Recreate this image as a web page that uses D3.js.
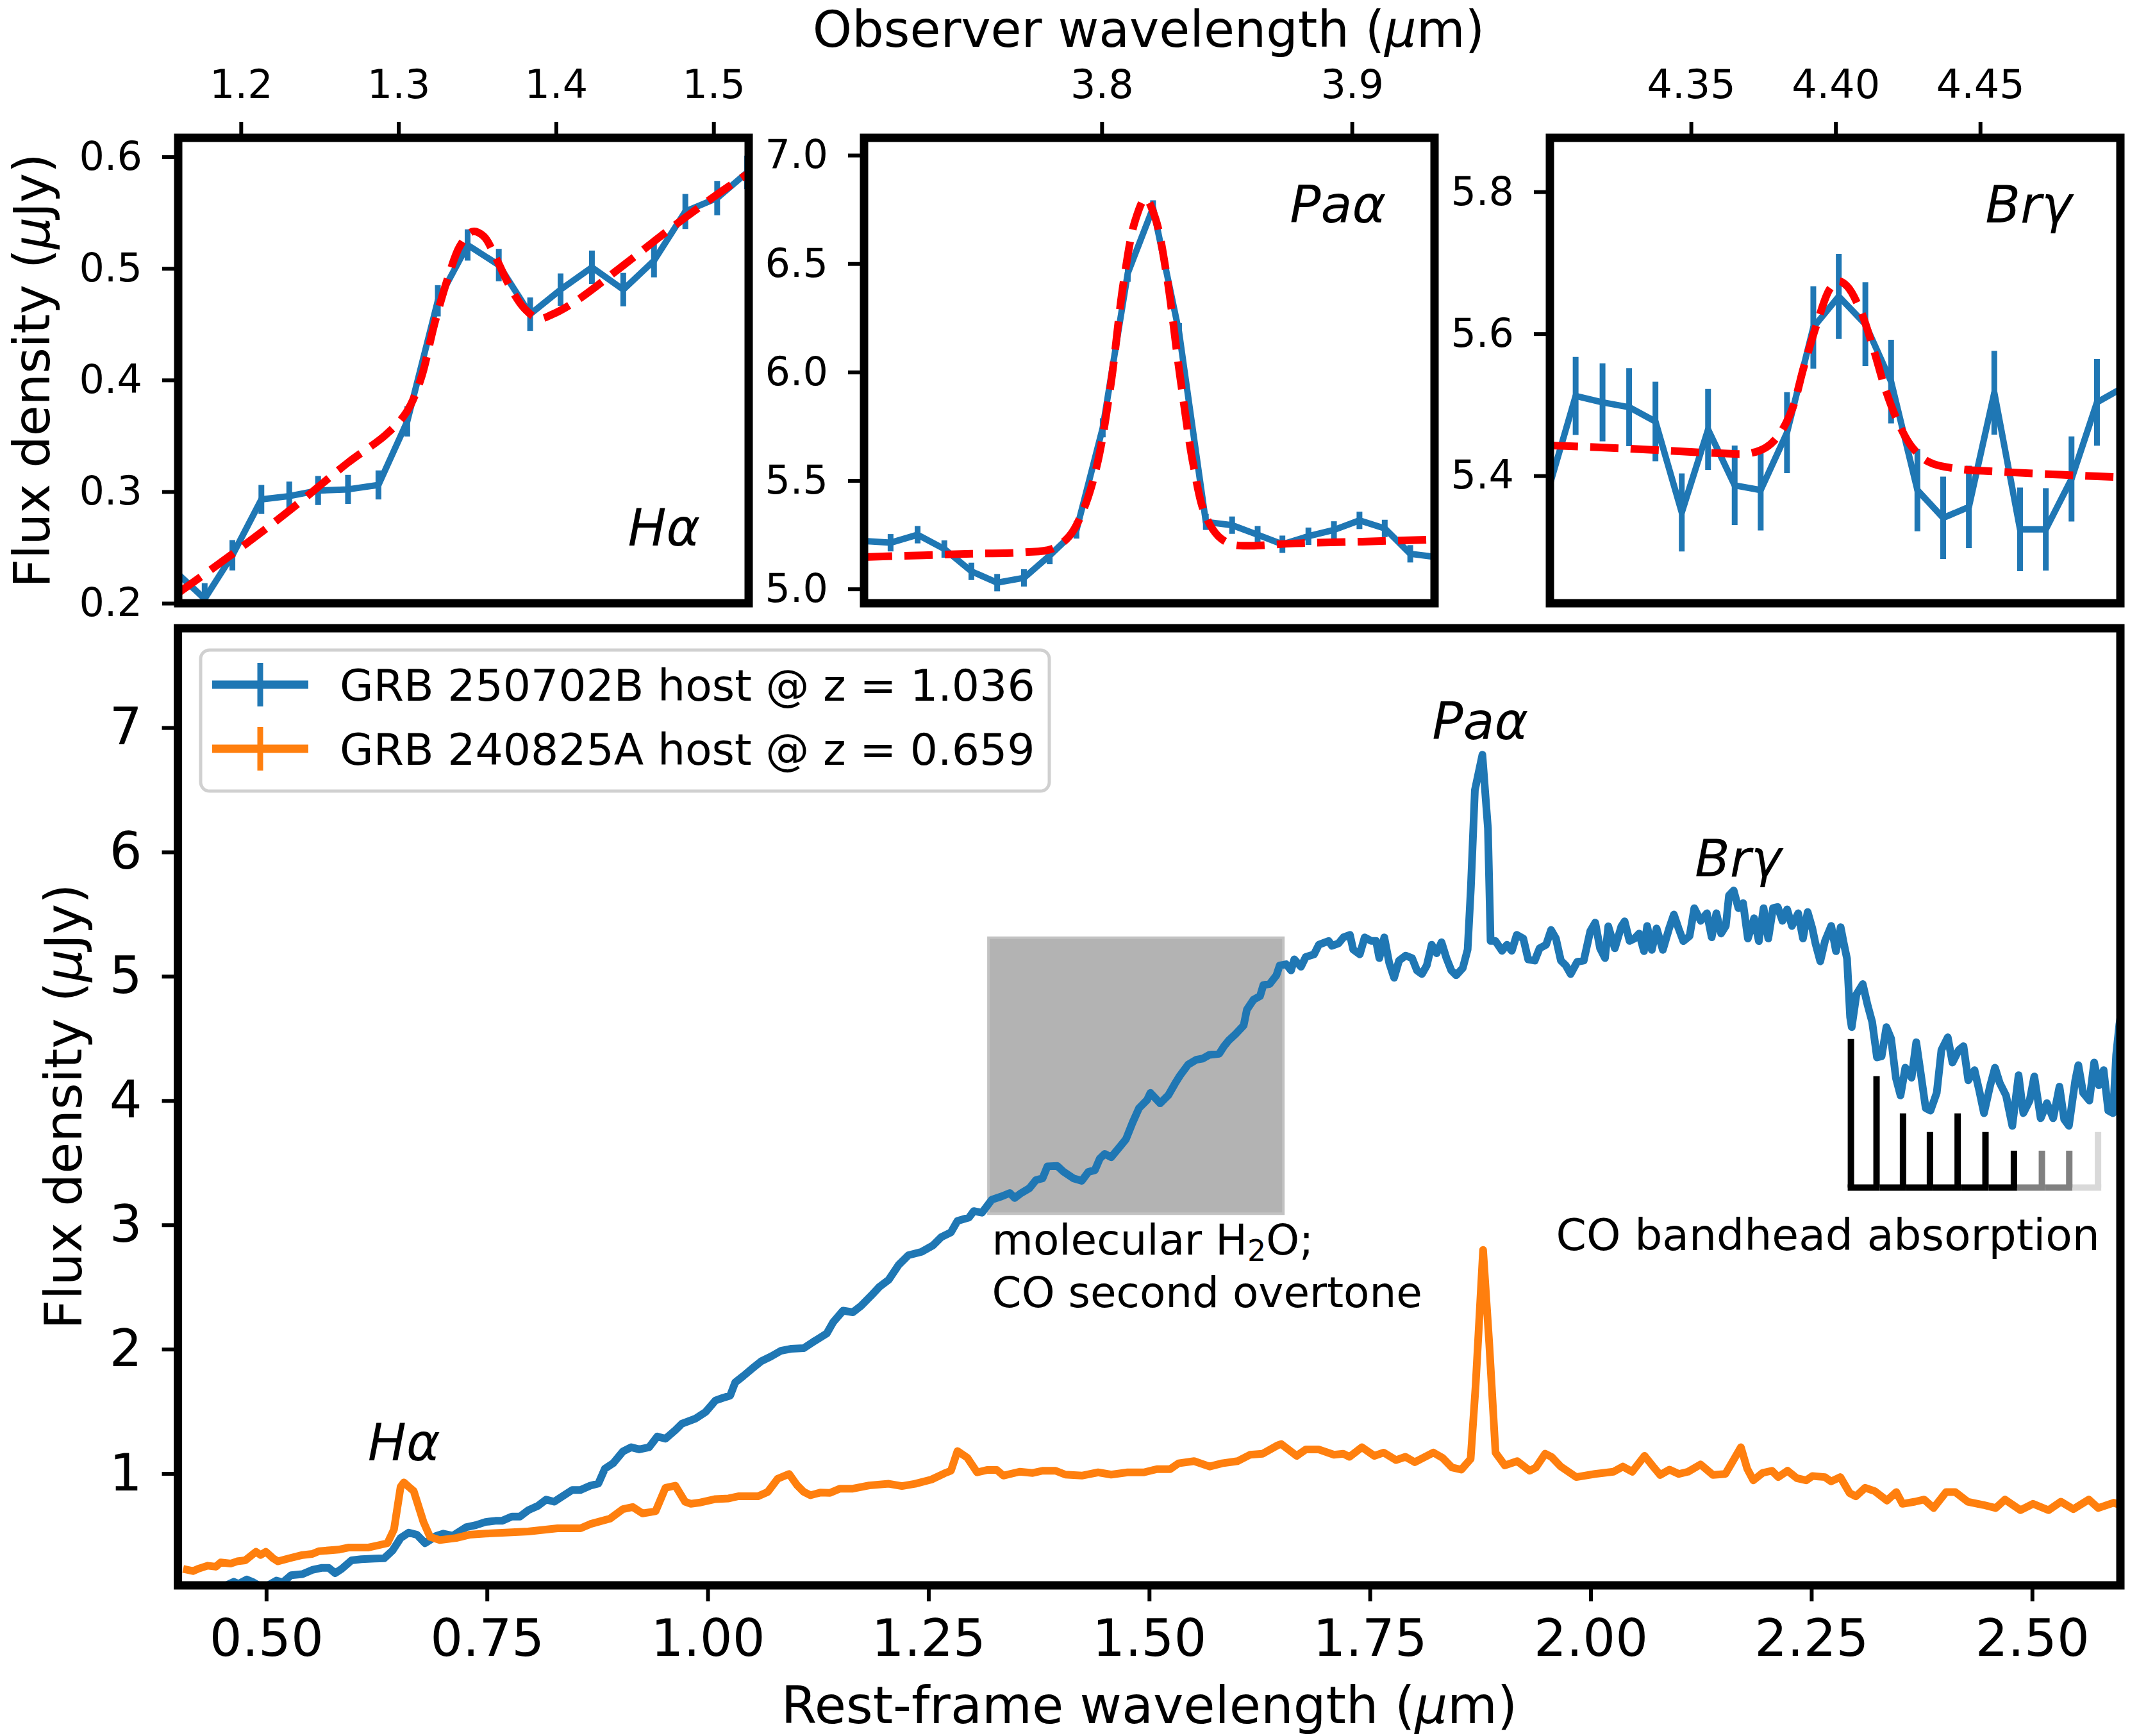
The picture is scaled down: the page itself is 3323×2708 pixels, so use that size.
<!DOCTYPE html>
<html>
<head>
<meta charset="utf-8">
<script src="https://cdn.jsdelivr.net/npm/d3@7"></script>
<style>
body { margin: 0; background: #fff; }
svg text { font-family: "DejaVu Sans", sans-serif; }
</style>
</head>
<body>
<svg id="fig" width="3323" height="2708"></svg>
<script>
// ---- zoom panels: observer-frame wavelength (um), flux (uJy), error ----
var haWave = [1.158, 1.177, 1.1946, 1.213, 1.2307, 1.249, 1.268, 1.2873, 1.3056, 1.325, 1.3439, 1.3637, 1.3836, 1.4029, 1.4228, 1.4427, 1.4622, 1.4821, 1.5023, 1.5213, 1.5406];
var haFlux = [0.229, 0.204, 0.243, 0.293, 0.296, 0.301, 0.302, 0.306, 0.363, 0.471, 0.521, 0.503, 0.459, 0.481, 0.501, 0.481, 0.507, 0.551, 0.563, 0.586, 0.61];
var haErr  = [0.014, 0.014, 0.0136, 0.013, 0.013, 0.013, 0.013, 0.013, 0.0136, 0.014, 0.014, 0.0145, 0.015, 0.0145, 0.015, 0.015, 0.015, 0.0157, 0.0154, 0.015, 0.015];
var haFitWave = [1.160, 1.1945, 1.2307, 1.268, 1.292, 1.305, 1.314, 1.323, 1.332, 1.339, 1.347, 1.354, 1.362, 1.371, 1.380, 1.389, 1.398, 1.413, 1.443, 1.473, 1.503, 1.523];
var haFitFlux = [0.209, 0.244, 0.283, 0.326, 0.351, 0.371, 0.40, 0.451, 0.494, 0.52, 0.533, 0.529, 0.509, 0.483, 0.464, 0.455, 0.459, 0.471, 0.503, 0.536, 0.567, 0.586];

var paWave = [3.7053, 3.7156, 3.7264, 3.7371, 3.7479, 3.7582, 3.7689, 3.7792, 3.7899, 3.8004, 3.8104, 3.8205, 3.8309, 3.8416, 3.8521, 3.8623, 3.8722, 3.8826, 3.8928, 3.9030, 3.9131, 3.9233, 3.9336];
var paFlux = [5.221, 5.213, 5.25, 5.184, 5.081, 5.029, 5.051, 5.154, 5.272, 5.743, 6.456, 6.757, 6.184, 5.309, 5.294, 5.25, 5.206, 5.243, 5.272, 5.316, 5.279, 5.162, 5.147];
var paErr  = [0.04, 0.04, 0.04, 0.04, 0.04, 0.04, 0.04, 0.04, 0.04, 0.044, 0.04, 0.035, 0.042, 0.037, 0.04, 0.04, 0.04, 0.04, 0.04, 0.04, 0.04, 0.04, 0.04];
var paFitWave = [3.705, 3.748, 3.769, 3.780, 3.787, 3.7925, 3.798, 3.8035, 3.8088, 3.8134, 3.8175, 3.8214, 3.8259, 3.8313, 3.8367, 3.8412, 3.8466, 3.852, 3.8592, 3.8772, 3.9041, 3.933];
var paFitFlux = [5.147, 5.162, 5.169, 5.184, 5.243, 5.36, 5.566, 5.934, 6.42, 6.70, 6.80, 6.71, 6.45, 5.98, 5.566, 5.346, 5.243, 5.206, 5.199, 5.21, 5.218, 5.228];

var brWave = [4.3011, 4.3101, 4.3194, 4.3286, 4.3377, 4.3468, 4.3559, 4.3651, 4.3741, 4.3832, 4.3923, 4.4011, 4.4103, 4.4192, 4.4283, 4.4372, 4.4461, 4.4549, 4.4638, 4.4727, 4.4816, 4.4904, 4.4994];
var brFlux = [5.3865, 5.5124, 5.5034, 5.4966, 5.4764, 5.3483, 5.4652, 5.3865, 5.3798, 5.4607, 5.609, 5.6526, 5.6135, 5.5326, 5.3798, 5.3407, 5.356, 5.5169, 5.3245, 5.3245, 5.3955, 5.5034, 5.524];
var brErr  = [0.056, 0.055, 0.055, 0.055, 0.056, 0.055, 0.057, 0.056, 0.057, 0.057, 0.058, 0.060, 0.059, 0.059, 0.058, 0.058, 0.058, 0.059, 0.059, 0.058, 0.060, 0.061, 0.061];
var brFitWave = [4.3012, 4.329, 4.3585, 4.370, 4.376, 4.3805, 4.385, 4.389, 4.394, 4.398, 4.401, 4.404, 4.4085, 4.413, 4.4173, 4.422, 4.4265, 4.432, 4.440, 4.462, 4.4985];
var brFitFlux = [5.4427, 5.438, 5.432, 5.4315, 5.440, 5.458, 5.494, 5.553, 5.620, 5.663, 5.674, 5.667, 5.634, 5.580, 5.521, 5.472, 5.440, 5.420, 5.411, 5.4045, 5.398];

// ---- main panel: rest-frame wavelength (um), flux (uJy) ----
var blueWave = [0.405, 0.430, 0.450, 0.4633, 0.4688, 0.4781, 0.4855, 0.4966, 0.5114, 0.5188, 0.5281, 0.5410, 0.5521, 0.5633, 0.5707, 0.5781, 0.5855, 0.5966, 0.6077, 0.6225, 0.6336, 0.6429, 0.6522, 0.6614, 0.6707, 0.6799, 0.6929, 0.7003, 0.7114, 0.7262, 0.7373, 0.7484, 0.7596, 0.7670, 0.7781, 0.7873, 0.7966, 0.8077, 0.8170, 0.8262, 0.8373, 0.8466, 0.8559, 0.8670, 0.8762, 0.8836, 0.8929, 0.9040, 0.9133, 0.9225, 0.9336, 0.9429, 0.9522, 0.9633, 0.9707, 0.9799,
  0.9866, 0.9977, 1.0088, 1.0163, 1.0255, 1.0311, 1.0403, 1.0514, 1.0607, 1.0718, 1.0829, 1.0940, 1.1088, 1.1199, 1.1348, 1.1422, 1.1533, 1.1644, 1.1737, 1.1848, 1.1941, 1.2051, 1.2163, 1.2274, 1.2422, 1.2551, 1.2644, 1.2755, 1.2829, 1.2959, 1.3014, 1.3107, 1.3218, 1.3329, 1.3422, 1.3477, 1.3551, 1.3644, 1.3718, 1.3792, 1.3848, 1.3959, 1.4033, 1.4144, 1.4237, 1.4311, 1.4385, 1.4440, 1.4496, 1.4570, 1.4663, 1.4737, 1.4811, 1.4885, 1.4977, 1.5014, 1.5125, 1.5218,
  1.5292, 1.5348, 1.5441, 1.5533, 1.5607, 1.5681, 1.5793, 1.5848, 1.5904, 1.5978, 1.6070, 1.6107, 1.6181, 1.6256, 1.6293, 1.6367, 1.6441, 1.6478, 1.6552, 1.6607, 1.6644, 1.6719, 1.6774, 1.6867, 1.6922, 1.7033, 1.7070, 1.7144, 1.7200, 1.7274, 1.7311, 1.7385, 1.7441, 1.7515, 1.7570, 1.7607, 1.7663, 1.7719, 1.7774, 1.7830, 1.7904, 1.7978, 1.8033, 1.8089, 1.8144, 1.8200, 1.8256, 1.8311, 1.8367, 1.8422, 1.8478, 1.8552, 1.8607, 1.8644, 1.8689, 1.8774, 1.8837, 1.8867, 1.8922, 1.8996, 1.9052, 1.9107, 1.9163, 1.9237, 1.9293, 1.9367, 1.9422, 1.9496, 1.9552, 1.9607, 1.9663, 1.9719, 1.9774, 1.9848, 1.9922, 1.9996, 2.0052, 2.0107, 2.0163, 2.0200, 2.0274, 2.0348, 2.0385, 2.0441, 2.0496,
  2.0550, 2.0604, 2.0640, 2.0693, 2.0747, 2.0818, 2.0889, 2.0943, 2.0996, 2.1050, 2.1121, 2.1174, 2.1246, 2.1317, 2.1371, 2.1424, 2.1478, 2.1531, 2.1567, 2.1620, 2.1674, 2.1727, 2.1781, 2.1852, 2.1905, 2.1959, 2.2012, 2.2066, 2.2119, 2.2173, 2.2226, 2.2280, 2.2351, 2.2405, 2.2458, 2.2511, 2.2547, 2.2601, 2.2654, 2.2725, 2.2779, 2.2832, 2.2868, 2.2904, 2.2939, 2.2957, 2.3011, 2.3082, 2.3135, 2.3189, 2.3243, 2.3296, 2.3350, 2.3403, 2.3457, 2.3510, 2.3564, 2.3635, 2.3688, 2.3742, 2.3795, 2.3849, 2.3920, 2.3973, 2.4045, 2.4098, 2.4170, 2.4223, 2.4277, 2.4348, 2.4401, 2.4455, 2.4526, 2.4580, 2.4633, 2.4705, 2.4776, 2.4847, 2.4901, 2.4972, 2.5025, 2.5097, 2.5168, 2.5239, 2.5310, 2.5364, 2.5417, 2.5489, 2.5524, 2.5578, 2.5649, 2.5703, 2.5756, 2.5810, 2.5863, 2.5917, 2.5952, 2.5988, 2.6020];
var blueFlux = [0.03, 0.06, 0.085, 0.129, 0.112, 0.147, 0.124, 0.078, 0.138, 0.124, 0.181, 0.190, 0.224, 0.241, 0.241, 0.198, 0.233, 0.301, 0.310, 0.315, 0.318, 0.379, 0.481, 0.524, 0.507, 0.439, 0.499, 0.516, 0.499, 0.567, 0.584, 0.610, 0.619, 0.619, 0.653, 0.653, 0.704, 0.739, 0.790, 0.773, 0.825, 0.867, 0.867, 0.902, 0.919, 1.039, 1.082, 1.177, 1.211, 1.194, 1.211, 1.297, 1.280, 1.348, 1.400, 1.425,
  1.443, 1.495, 1.587, 1.606, 1.627, 1.732, 1.784, 1.850, 1.903, 1.942, 1.987, 2.003, 2.008, 2.060, 2.126, 2.218, 2.310, 2.297, 2.349, 2.428, 2.499, 2.559, 2.678, 2.756, 2.783, 2.835, 2.901, 2.940, 3.032, 3.059, 3.111, 3.098, 3.203, 3.229, 3.256, 3.216, 3.256, 3.295, 3.361, 3.374, 3.471, 3.474, 3.426, 3.374, 3.355, 3.426, 3.440, 3.532, 3.571, 3.545, 3.624, 3.689, 3.821, 3.939, 4.005, 4.062, 3.978, 4.044,
  4.136, 4.200, 4.289, 4.328, 4.338, 4.368, 4.377, 4.437, 4.486, 4.535, 4.604, 4.732, 4.811, 4.841, 4.929, 4.939, 5.008, 5.087, 5.097, 5.047, 5.136, 5.077, 5.156, 5.176, 5.254, 5.284, 5.245, 5.264, 5.313, 5.333, 5.215, 5.176, 5.313, 5.284, 5.284, 5.146, 5.313, 5.107, 4.988, 5.126, 5.166, 5.146, 5.047, 5.018, 5.087, 5.254, 5.185, 5.274, 5.146, 5.047, 5.008, 5.067, 5.215, 5.717, 6.496, 6.782, 6.190, 5.284, 5.284, 5.205, 5.254, 5.205, 5.333, 5.304, 5.136, 5.126, 5.225, 5.254, 5.373, 5.304, 5.126, 5.087, 5.018, 5.116, 5.126, 5.363, 5.432, 5.225, 5.146, 5.402, 5.225, 5.402, 5.442, 5.284, 5.303,
  5.344, 5.202, 5.405, 5.212, 5.385, 5.212, 5.385, 5.497, 5.385, 5.283, 5.324, 5.548, 5.446, 5.507, 5.314, 5.507, 5.344, 5.405, 5.650, 5.690, 5.548, 5.589, 5.304, 5.467, 5.283, 5.548, 5.304, 5.548, 5.558, 5.446, 5.538, 5.405, 5.507, 5.304, 5.517, 5.385, 5.263, 5.120, 5.283, 5.405, 5.202, 5.395, 5.263, 5.141, 4.672, 4.591, 4.856, 4.937, 4.774, 4.632, 4.347, 4.357, 4.591, 4.499, 4.184, 4.041, 4.265, 4.184, 4.469, 4.204, 3.939, 3.919, 4.062, 4.407, 4.509, 4.306, 4.407, 4.438, 4.163, 4.245, 4.082, 3.899, 4.123, 4.265, 4.143, 4.041, 3.797, 4.204, 3.899, 4.000, 4.194, 3.858, 3.980, 3.858, 4.112, 3.848, 3.797, 4.163, 4.285, 4.062, 4.000, 4.306, 4.123, 4.245, 3.919, 3.899, 4.367, 4.611, 4.75];

var orangeWave = [0.4059, 0.417, 0.4225, 0.4336, 0.4429, 0.4484, 0.4596, 0.467, 0.4762, 0.4884, 0.4936, 0.4996, 0.5077, 0.5133, 0.5262, 0.541, 0.5521, 0.5596, 0.5818, 0.5929, 0.6151, 0.6262, 0.6373, 0.6447, 0.6522, 0.6559, 0.6614, 0.667, 0.6781, 0.6855, 0.6966, 0.7151, 0.73, 0.7484, 0.7707, 0.7966, 0.83, 0.8559, 0.867, 0.8892, 0.904, 0.9151, 0.9262, 0.941, 0.9522, 0.9633, 0.9744, 0.981,
  0.9903, 1.0088, 1.0237, 1.0348, 1.0570, 1.0681, 1.0792, 1.0922, 1.1014, 1.1088, 1.1163, 1.1274, 1.1385, 1.1496, 1.1644, 1.1829, 1.2051, 1.2200, 1.2348, 1.2533, 1.2681, 1.2755, 1.2829, 1.2940, 1.3051, 1.3163, 1.3274, 1.3348, 1.3533, 1.3681, 1.3792, 1.3940, 1.4051, 1.4237, 1.4422, 1.4570, 1.4755, 1.4940, 1.5088, 1.5237,
  1.5333, 1.5509, 1.5685, 1.5826, 1.6002, 1.6143, 1.6284, 1.6459, 1.6495, 1.6671, 1.6776, 1.6917, 1.7093, 1.7198, 1.7269, 1.7410, 1.7550, 1.7656, 1.7796, 1.7902, 1.8008, 1.8219, 1.8324, 1.8430, 1.8535, 1.8641, 1.8697, 1.8782, 1.8852, 1.8923, 1.9028, 1.9169, 1.9310, 1.9380, 1.9485, 1.9556, 1.9661, 1.9837, 2.0048, 2.0259, 2.0365, 2.0471, 2.0611, 2.0717, 2.0788, 2.0893, 2.0999, 2.1104, 2.1245, 2.1386, 2.1526, 2.1632, 2.1702, 2.1773, 2.1843, 2.1949, 2.2054, 2.2125, 2.2230, 2.2336, 2.2441, 2.2512, 2.2653, 2.2723, 2.2828, 2.2934, 2.3004, 2.3110, 2.3215, 2.3356, 2.3462, 2.3532, 2.3673, 2.3778, 2.3884, 2.4025, 2.4130, 2.4271, 2.4447, 2.4588, 2.4693, 2.4869, 2.5010, 2.5186, 2.5326, 2.5467, 2.5643, 2.5749, 2.5925, 2.6020];
var orangeFlux = [0.232, 0.215, 0.232, 0.258, 0.250, 0.284, 0.275, 0.293, 0.301, 0.370, 0.344, 0.370, 0.318, 0.293, 0.318, 0.344, 0.353, 0.375, 0.387, 0.404, 0.404, 0.421, 0.439, 0.550, 0.893, 0.928, 0.893, 0.859, 0.610, 0.490, 0.464, 0.481, 0.507, 0.516, 0.524, 0.533, 0.559, 0.559, 0.593, 0.636, 0.713, 0.730, 0.679, 0.696, 0.885, 0.902, 0.773, 0.756,
  0.765, 0.794, 0.799, 0.817, 0.817, 0.852, 0.957, 0.996, 0.904, 0.852, 0.825, 0.846, 0.844, 0.878, 0.878, 0.904, 0.917, 0.899, 0.917, 0.951, 1.001, 1.022, 1.180, 1.127, 1.009, 1.028, 1.028, 0.983, 1.014, 1.004, 1.022, 1.022, 0.991, 0.983, 1.009, 0.991, 1.009, 1.009, 1.035, 1.035,
  1.082, 1.099, 1.056, 1.082, 1.099, 1.151, 1.159, 1.228, 1.237, 1.142, 1.194, 1.194, 1.151, 1.159, 1.134, 1.211, 1.142, 1.168, 1.108, 1.134, 1.091, 1.168, 1.125, 1.048, 1.031, 1.117, 1.700, 2.799, 2.043, 1.168, 1.065, 1.099, 1.022, 1.048, 1.159, 1.134, 1.056, 0.971, 0.996, 1.014, 1.056, 1.014, 1.142, 1.048, 0.988, 1.031, 0.996, 1.014, 1.073, 0.988, 0.996, 1.125, 1.211, 1.039, 0.945, 1.005, 1.022, 0.971, 1.022, 0.962, 0.945, 0.979, 0.971, 0.936, 0.971, 0.842, 0.816, 0.885, 0.859, 0.782, 0.850, 0.756, 0.773, 0.790, 0.722, 0.850, 0.850, 0.773, 0.747, 0.722, 0.790, 0.705, 0.756, 0.705, 0.773, 0.713, 0.790, 0.722, 0.765, 0.739];

// CO bandhead markers
var coWave = [2.2948, 2.3238, 2.3538, 2.3843, 2.4157, 2.4472, 2.4794, 2.5111, 2.5421, 2.5747];
var coTop = [4.495, 4.196, 3.897, 3.748, 3.897, 3.748, 3.597, 3.597, 3.597, 3.748];
var coColor = ['#000', '#000', '#000', '#000', '#000', '#000', '#000', '#808080', '#808080', '#d9d9d9'];
var coBase = 3.3;

// shaded H2O / CO second overtone region
var waterBand = [1.318, 1.652];
var waterFlux = [3.09, 5.31];

// ticks
var mainXTicks = [0.5, 0.75, 1.0, 1.25, 1.5, 1.75, 2.0, 2.25, 2.5];
var mainYTicks = [1, 2, 3, 4, 5, 6, 7];

var seriesNames = ['GRB 250702B host @ z = 1.036', 'GRB 240825A host @ z = 0.659'];

var BLUE = '#1f77b4', ORANGE = '#ff7f0e', RED = '#ff0000';
var PT = 215, PB = 941;        // zoom panel top / bottom
var MT = 980, MB = 2473;       // main panel top / bottom
var ML = 277.6, MR = 3308;

var svg = d3.select('#fig');
svg.append('rect').attr('width', 3323).attr('height', 2708).attr('fill', '#fff');

var panels = [
  {id: 'ha', left: 278, right: 1168, xdom: [1.1602, 1.5223], ydom: [0.2, 0.617],
   xticks: [1.2, 1.3, 1.4, 1.5], xfmt: '.1f', yticks: [0.2, 0.3, 0.4, 0.5, 0.6], yfmt: '.1f',
   wave: haWave, flux: haFlux, err: haErr, fw: haFitWave, ff: haFitFlux, label: 'Hα', labelY: 851},
  {id: 'pa', left: 1348, right: 2238, xdom: [3.705, 3.933], ydom: [4.934, 7.08],
   xticks: [3.8, 3.9], xfmt: '.1f', yticks: [5.0, 5.5, 6.0, 6.5, 7.0], yfmt: '.1f',
   wave: paWave, flux: paFlux, err: paErr, fw: paFitWave, ff: paFitFlux, label: 'Paα', labelY: 347},
  {id: 'br', left: 2418, right: 3308, xdom: [4.3012, 4.4985], ydom: [5.2204, 5.876],
   xticks: [4.35, 4.40, 4.45], xfmt: '.2f', yticks: [5.4, 5.6, 5.8], yfmt: '.1f',
   wave: brWave, flux: brFlux, err: brErr, fw: brFitWave, ff: brFitFlux, label: 'Brγ', labelY: 347}
];

function styleAxis(g, size) {
  g.select('.domain').remove();
  g.attr('font-size', size).attr('font-family', '"DejaVu Sans", sans-serif');
  g.selectAll('.tick line').attr('stroke', '#000').attr('stroke-width', 6);
  g.selectAll('.tick text').attr('fill', '#000');
}

panels.forEach(function (p) {
  var x = d3.scaleLinear().domain(p.xdom).range([p.left, p.right]);
  var y = d3.scaleLinear().domain(p.ydom).range([PB, PT]);
  var clipId = 'clip-' + p.id;
  svg.append('clipPath').attr('id', clipId).append('rect')
    .attr('x', p.left).attr('y', PT).attr('width', p.right - p.left).attr('height', PB - PT);
  var inner = svg.append('g').attr('clip-path', 'url(#' + clipId + ')');
  var pts = p.wave.map(function (w, i) { return {w: w, f: p.flux[i], e: p.err[i]}; });

  inner.append('path').datum(pts)
    .attr('d', d3.line().x(function (d) { return x(d.w); }).y(function (d) { return y(d.f); }))
    .attr('fill', 'none').attr('stroke', BLUE).attr('stroke-width', 10).attr('stroke-linejoin', 'round');
  inner.selectAll('line.err').data(pts).enter().append('line')
    .attr('class', 'err')
    .attr('x1', function (d) { return x(d.w); }).attr('x2', function (d) { return x(d.w); })
    .attr('y1', function (d) { return y(d.f - d.e); }).attr('y2', function (d) { return y(d.f + d.e); })
    .attr('stroke', BLUE).attr('stroke-width', 9);

  var fit = p.fw.map(function (w, i) { return [w, p.ff[i]]; });
  inner.append('path').datum(fit)
    .attr('d', d3.line().curve(d3.curveCatmullRom).x(function (d) { return x(d[0]); }).y(function (d) { return y(d[1]); }))
    .attr('fill', 'none').attr('stroke', RED).attr('stroke-width', 12).attr('stroke-dasharray', '44,19');

  svg.append('text')
    .attr('x', p.left + 0.915 * (p.right - p.left)).attr('y', p.labelY)
    .attr('text-anchor', 'end').attr('font-style', 'italic').attr('font-size', 80)
    .text(p.label);

  svg.append('g').attr('transform', 'translate(0,' + PT + ')')
    .call(d3.axisTop(x).tickValues(p.xticks).tickSize(25).tickPadding(37).tickFormat(d3.format(p.xfmt)))
    .call(function (g) { styleAxis(g, 62); });
  svg.append('g').attr('transform', 'translate(' + p.left + ',0)')
    .call(d3.axisLeft(y).tickValues(p.yticks).tickSize(25).tickPadding(31).tickFormat(d3.format(p.yfmt)))
    .call(function (g) { styleAxis(g, 62); });

  svg.append('rect').attr('x', p.left).attr('y', PT)
    .attr('width', p.right - p.left).attr('height', PB - PT)
    .attr('fill', 'none').attr('stroke', '#000').attr('stroke-width', 13);
});

// ---- main panel ----
var x = d3.scaleLinear().domain([0.4, 2.6]).range([ML, MR]);
var y = d3.scaleLinear().domain([0.1, 7.8]).range([MB, MT]);

svg.append('clipPath').attr('id', 'clip-main').append('rect')
  .attr('x', ML).attr('y', MT).attr('width', MR - ML).attr('height', MB - MT);
var main = svg.append('g').attr('clip-path', 'url(#clip-main)');

main.append('rect')
  .attr('x', x(waterBand[0])).attr('y', y(waterFlux[1]))
  .attr('width', x(waterBand[1]) - x(waterBand[0])).attr('height', y(waterFlux[0]) - y(waterFlux[1]))
  .attr('fill', '#b3b3b3').attr('stroke', '#c2c2c2').attr('stroke-width', 4);

var spec = d3.line().x(function (d) { return x(d[0]); }).y(function (d) { return y(d[1]); });
main.append('path').datum(blueWave.map(function (w, i) { return [w, blueFlux[i]]; }))
  .attr('d', spec).attr('fill', 'none').attr('stroke', BLUE).attr('stroke-width', 12).attr('stroke-linejoin', 'round');
main.append('path').datum(orangeWave.map(function (w, i) { return [w, orangeFlux[i]]; }))
  .attr('d', spec).attr('fill', 'none').attr('stroke', ORANGE).attr('stroke-width', 12).attr('stroke-linejoin', 'round');

// CO bandhead ladder
coWave.forEach(function (w, i) {
  if (i > 0) {
    main.append('line')
      .attr('x1', i === 1 ? x(coWave[0]) - 5 : x(coWave[i - 1]) + 5).attr('x2', x(w) + 5)
      .attr('y1', y(coBase)).attr('y2', y(coBase))
      .attr('stroke', coColor[i]).attr('stroke-width', 10);
  }
});
coWave.forEach(function (w, i) {
  main.append('line')
    .attr('x1', x(w)).attr('x2', x(w)).attr('y1', y(coBase)).attr('y2', y(coTop[i]))
    .attr('stroke', coColor[i]).attr('stroke-width', 10);
});

// line labels
var lineLabels = [
  {t: 'Hα', w: 0.656, f: 1.108},
  {t: 'Paα', w: 1.875, f: 6.91},
  {t: 'Brγ', w: 2.167, f: 5.806}
];
svg.selectAll('text.line-label').data(lineLabels).enter().append('text')
  .attr('class', 'line-label')
  .attr('x', function (d) { return x(d.w); }).attr('y', function (d) { return y(d.f); })
  .attr('text-anchor', 'middle').attr('font-style', 'italic').attr('font-size', 80)
  .text(function (d) { return d.t; });

var water = svg.append('text').attr('x', x(1.322)).attr('y', y(2.763)).attr('font-size', 66);
water.append('tspan').text('molecular H');
water.append('tspan').attr('font-size', 46).attr('dy', 10).text('2');
water.append('tspan').attr('dy', -10).text('O;');
svg.append('text').attr('x', x(1.322)).attr('y', y(2.339)).attr('font-size', 66).text('CO second overtone');
svg.append('text').attr('x', x(2.5767)).attr('y', y(2.797)).attr('font-size', 68)
  .attr('text-anchor', 'end').text('CO bandhead absorption');

svg.append('g').attr('transform', 'translate(0,' + MB + ')')
  .call(d3.axisBottom(x).tickValues(mainXTicks).tickSize(25).tickPadding(28).tickFormat(d3.format('.2f')))
  .call(function (g) { styleAxis(g, 80); });
svg.append('g').attr('transform', 'translate(' + ML + ',0)')
  .call(d3.axisLeft(y).tickValues(mainYTicks).tickSize(25).tickPadding(31).tickFormat(d3.format('d')))
  .call(function (g) { styleAxis(g, 80); });

// legend
var leg = svg.append('g');
leg.append('rect').attr('x', 313).attr('y', 1014).attr('width', 1324).attr('height', 220)
  .attr('rx', 14).attr('fill', '#fff').attr('fill-opacity', 0.8)
  .attr('stroke', '#d0d0d0').attr('stroke-width', 5);
[BLUE, ORANGE].forEach(function (c, i) {
  var cy = 1068 + i * 100;
  leg.append('line').attr('x1', 331).attr('x2', 481).attr('y1', cy).attr('y2', cy)
    .attr('stroke', c).attr('stroke-width', 13);
  leg.append('line').attr('x1', 406).attr('x2', 406).attr('y1', cy - 34).attr('y2', cy + 34)
    .attr('stroke', c).attr('stroke-width', 9);
  leg.append('text').attr('x', 530).attr('y', cy + 25).attr('font-size', 68).text(seriesNames[i]);
});

svg.append('rect').attr('x', ML).attr('y', MT).attr('width', MR - ML).attr('height', MB - MT)
  .attr('fill', 'none').attr('stroke', '#000').attr('stroke-width', 13);

// axis titles
function muLabel(sel, before, after) {
  sel.append('tspan').text(before);
  sel.append('tspan').attr('font-style', 'italic').text('μ');
  sel.append('tspan').text(after);
}
muLabel(svg.append('text').attr('x', 1792).attr('y', 73).attr('text-anchor', 'middle').attr('font-size', 78),
  'Observer wavelength (', 'm)');
muLabel(svg.append('text').attr('x', 1793).attr('y', 2688).attr('text-anchor', 'middle').attr('font-size', 80),
  'Rest-frame wavelength (', 'm)');
muLabel(svg.append('text').attr('transform', 'translate(77,578) rotate(-90)').attr('text-anchor', 'middle').attr('font-size', 78),
  'Flux density (', 'Jy)');
muLabel(svg.append('text').attr('transform', 'translate(127,1726) rotate(-90)').attr('text-anchor', 'middle').attr('font-size', 80),
  'Flux density (', 'Jy)');
</script>
</body>
</html>
